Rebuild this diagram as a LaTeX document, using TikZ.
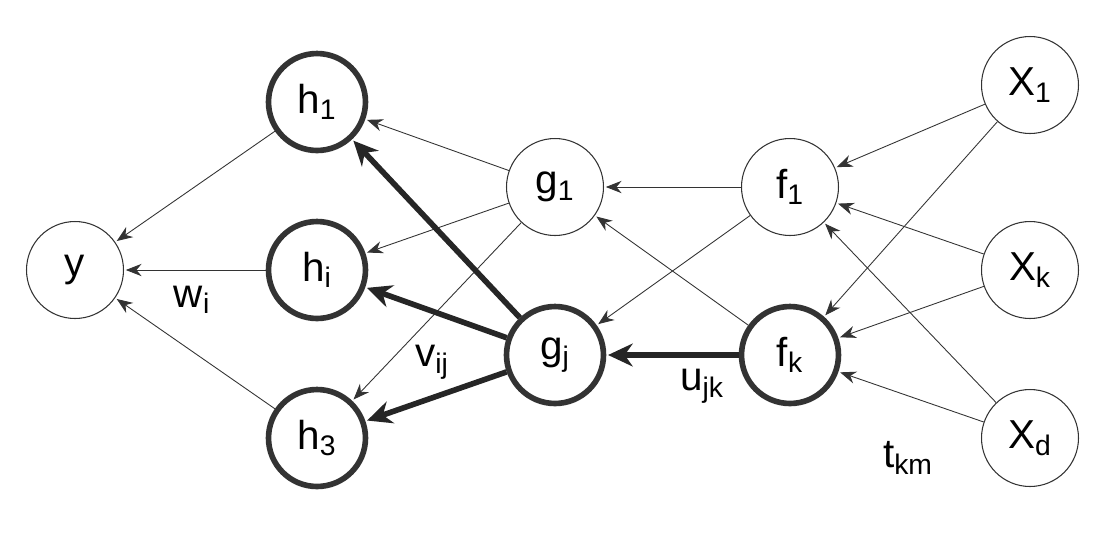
\documentclass[tikz,border=0pt]{standalone}
\usepackage{fontspec}
\setmainfont{Liberation Sans}
\usetikzlibrary{positioning,arrows.meta}

\begin{document}
\begin{tikzpicture}[x=0.02cm,y=-0.02cm]
			\tikzset{
				unit/.style={draw=black!80, line width=0.6pt, circle, minimum size=1.94cm, inner sep=0pt, font=\fontsize{23}{26}\selectfont},
				bold unit/.style={unit, line width=3.2pt},
				thin/.style={draw=black!80, line width=0.5pt, -{Stealth[length=9pt,width=7pt]}, shorten >=1pt},
				thick/.style={draw=black!85, line width=3.2pt, -{Stealth[length=14pt,width=13pt]}, shorten >=1pt},
				lbl/.style={font=\fontsize{23}{26}\selectfont}
			}
			\useasboundingbox (0,0) rectangle (1110,539);
			% output
			\node [unit] (y) at (75,270) {y};
			% hidden layer h
			\node [bold unit] (h1) at (317,102) {h\textsubscript{1}};
			\node [bold unit] (hi) at (317,270) {h\textsubscript{i}};
			\node [bold unit] (h3) at (317,438) {h\textsubscript{3}};
			% hidden layer g
			\node [unit] (g1) at (555,187) {g\textsubscript{1}};
			\node [bold unit] (gj) at (555,355) {g\textsubscript{j}};
			% hidden layer f
			\node [unit] (f1) at (790,187) {f\textsubscript{1}};
			\node [bold unit] (fk) at (790,355) {f\textsubscript{k}};
			% inputs
			\node [unit] (x1) at (1030,85) {X\textsubscript{1}};
			\node [unit] (xk) at (1030,270) {X\textsubscript{k}};
			\node [unit] (xd) at (1030,438) {X\textsubscript{d}};
			% connections
			\foreach \a/\b in {x1/f1, x1/fk, xk/f1, xk/fk, xd/fk, xd/f1, f1/g1, f1/gj, fk/g1, g1/h1, g1/hi, g1/h3, h1/y, hi/y, h3/y}
				\draw [thin] (\a) -- (\b);
			\foreach \a/\b in {fk/gj, gj/h1, gj/hi, gj/h3}
				\draw [thick] (\a) -- (\b);
			% weights
			\node [lbl] at (192,300) {w\textsubscript{i}};
			\node [lbl] at (432,362) {v\textsubscript{ij}};
			\node [lbl] at (702,386) {u\textsubscript{jk}};
			\node [lbl] at (908,458) {t\textsubscript{km}};
\end{tikzpicture}
\end{document}
